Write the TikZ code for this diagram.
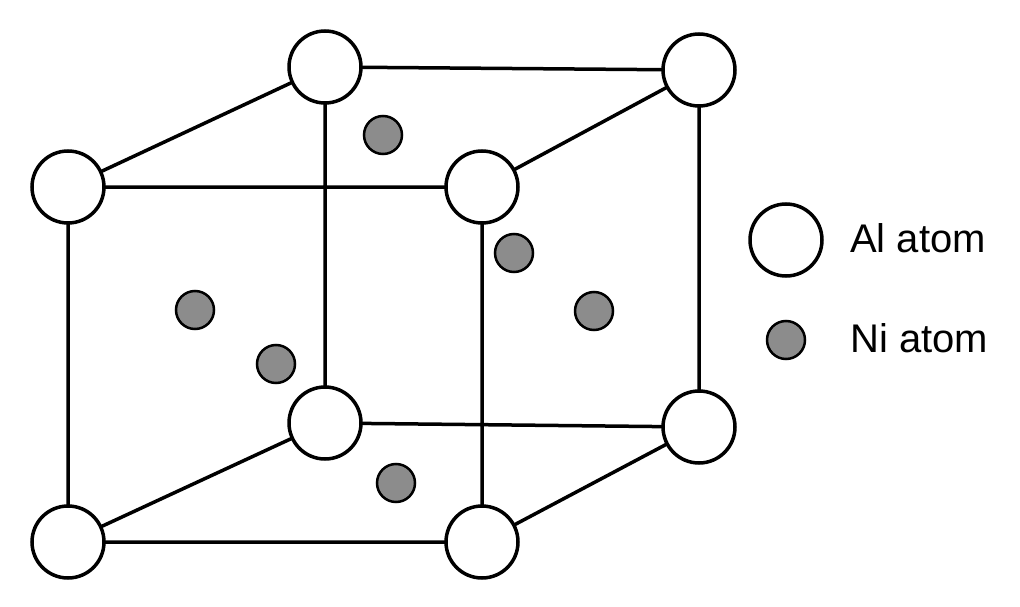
\documentclass[tikz,border=0pt]{standalone}
\usepackage{fontspec}
\setmainfont{Liberation Sans}
\begin{document}
\begin{tikzpicture}[x=1pt,y=-1pt]
\tikzset{al/.style={circle,draw,line width=3.5pt,fill=white,minimum size=72pt,inner sep=0},
ni/.style={circle,draw,line width=2.5pt,fill=ni,minimum size=38pt,inner sep=0},
bond/.style={line width=3.5pt},
lab/.style={anchor=west,font=\fontsize{40}{44}\selectfont,inner sep=0}}
\definecolor{ni}{gray}{0.55}
\useasboundingbox (0,0) rectangle (1020,607);
\coordinate (A) at (68,187); \coordinate (B) at (482,187);
\coordinate (C) at (68,542); \coordinate (D) at (482,542);
\coordinate (E) at (325,67); \coordinate (F) at (699,70);
\coordinate (G) at (325,423); \coordinate (H) at (699,427);
\draw[bond] (A)--(B)--(D)--(C)--cycle (E)--(F)--(H)--(G)--cycle
 (A)--(E) (B)--(F) (C)--(G) (D)--(H);
\foreach \p in {A,B,C,D,E,F,G,H} \node[al] (n\p) at (\p) {};
\node[ni] (n1) at (383,135) {};
\node[ni] (n2) at (195,310) {};
\node[ni] (n3) at (276,364) {};
\node[ni] (n4) at (514,253) {};
\node[ni] (n5) at (594,311) {};
\node[ni] (n6) at (396,483) {};
\node[al] (lal) at (786,240) {};
\node[ni] (lni) at (786,340) {};
\node[lab] (tal) at (850,238) {Al atom};
\node[lab] (tni) at (850,338) {Ni atom};
\end{tikzpicture}
\end{document}
